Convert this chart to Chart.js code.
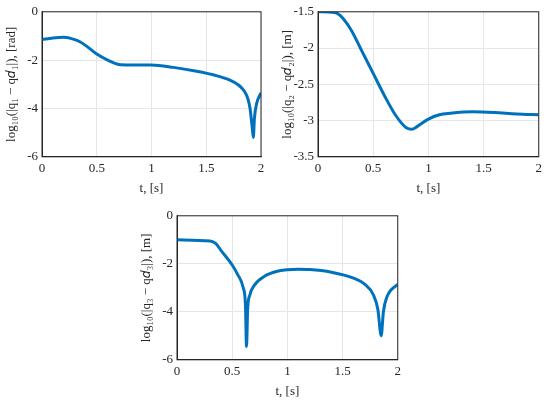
<!DOCTYPE html>
<html><head><meta charset="utf-8">
<script src="https://cdn.jsdelivr.net/npm/chart.js@4"></script>
<style>
body{margin:0;background:#fff;width:550px;height:411px;position:relative;overflow:hidden}
.c{position:absolute}
</style></head><body>
<div class="c" style="left:0;top:0;width:270px;height:200px"><canvas id="c1"></canvas></div>
<div class="c" style="left:276px;top:0;width:270px;height:200px"><canvas id="c2"></canvas></div>
<div class="c" style="left:135px;top:204px;width:270px;height:199px"><canvas id="c3"></canvas></div>
<script>
const t1 = [0,0.1,0.2,0.3,0.35,0.4,0.5,0.6,0.7,0.8,1.0,1.2,1.4,1.6,1.7,1.8,1.85,1.88,1.9,1.92,1.93,1.94,1.96,2.0];
const e1 = [-1.15,-1.08,-1.05,-1.15,-1.25,-1.4,-1.75,-2.0,-2.18,-2.2,-2.2,-2.3,-2.45,-2.65,-2.8,-3.05,-3.3,-3.6,-4.0,-4.8,-5.2,-4.4,-3.8,-3.35];
const t2 = [0,0.15,0.2,0.3,0.4,0.5,0.6,0.7,0.8,0.85,0.9,1.0,1.1,1.2,1.4,1.6,1.8,2.0];
const e2 = [-1.5,-1.51,-1.55,-1.75,-2.05,-2.35,-2.65,-2.92,-3.1,-3.12,-3.08,-2.98,-2.92,-2.9,-2.88,-2.89,-2.91,-2.92];
const t3 = [0,0.3,0.35,0.4,0.5,0.55,0.6,0.62,0.63,0.64,0.66,0.7,0.8,0.9,1.0,1.1,1.2,1.4,1.6,1.7,1.78,1.82,1.85,1.87,1.9,2.0];
const e3 = [-1.0,-1.05,-1.15,-1.45,-2.05,-2.45,-3.0,-3.7,-5.45,-3.9,-3.3,-2.9,-2.5,-2.32,-2.25,-2.23,-2.24,-2.35,-2.6,-2.85,-3.3,-3.9,-5.0,-4.0,-3.4,-2.85];
const xTicks = [0,0.5,1,1.5,2];

const font = {family:'"Liberation Serif", serif', size:13};
const frame = {id:'frame', afterDraw(ch){const a=ch.chartArea,c=ch.ctx;c.save();c.strokeStyle='#262626';c.lineWidth=1;c.strokeRect(a.left,a.top,a.right-a.left,a.bottom-a.top);c.restore();}};

function make(id, t, e, ymin, ymax, ystep, ytitle, padR){
  new Chart(document.getElementById(id), {
    type:'line',
    data:{datasets:[{data:t.map((x,i)=>({x:x,y:e[i]})), borderColor:'#0072BD', borderWidth:3, pointRadius:0, tension:0.3, cubicInterpolationMode:'monotone'}]},
    options:{responsive:true, maintainAspectRatio:false, animation:false,
      layout:{padding:{top:10,right:padR,left:0,bottom:0}},
      plugins:{legend:{display:false},tooltip:{enabled:false}},
      scales:{
        x:{type:'linear',min:0,max:2,afterBuildTicks(ax){ax.ticks=xTicks.map(v=>({value:v}));},
          grid:{color:'#e6e6e6',drawTicks:false},border:{color:'#262626'},
          ticks:{color:'#262626',font:font,padding:4,maxRotation:0,callback:v=>String(v)},
          title:{display:true,text:'t, [s]',color:'#262626',font:font,padding:{top:0}}},
        y:{min:ymin,max:ymax,ticks:{stepSize:ystep,color:'#262626',font:font,padding:4,callback:v=>String(v)},
          grid:{color:'#e6e6e6',drawTicks:false},border:{color:'#262626'},
          title:{display:true,text:ytitle,color:'#262626',font:font,padding:{bottom:2}},
          afterFit(ax){ax.width=42;}}
      }},
    plugins:[frame]
  });
}
make('c1', t1, e1, -6, 0, 2, 'log₁₀(|q₁ − q𝑑₁|), [rad]', 9);
make('c2', t2, e2, -3.5, -1.5, 0.5, 'log₁₀(|q₂ − q𝑑₂|), [m]', 5);
make('c3', t3, e3, -6, 0, 2, 'log₁₀(|q₃ − q𝑑₃|), [m]', 6);
</script></body></html>
